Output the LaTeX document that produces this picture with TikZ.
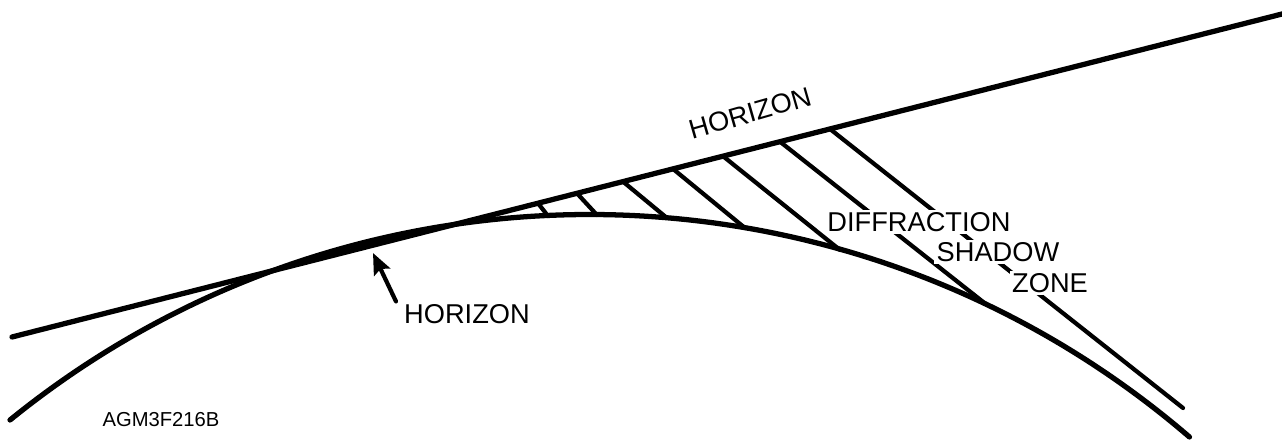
\documentclass[tikz,border=0pt]{standalone}
\usepackage{fontspec}
\setmainfont{Liberation Sans}
\usetikzlibrary{arrows.meta}
\tikzset{
  bigline/.style={line width=3pt, line cap=round},
  hatch/.style={line width=2.4pt, line cap=round},
  lbl/.style={fill=white, inner sep=1.5pt, font=\fontsize{15.5}{16}\selectfont},
}
\begin{document}
\begin{tikzpicture}[x=0.02cm, y=0.02cm]
  \useasboundingbox (0,0) rectangle (1282,440);
  % horizon line, tangent to the earth
  \coordinate (hl) at (12,103);
  \coordinate (hr) at (1282,426);
  \draw[bigline] (hl) -- (hr);
  % earth surface, centre (590,-695), r=920
  \draw[bigline] (10,20) arc[start angle=129.05, end angle=49.3, radius=920];

  % hatching between horizon and earth
  \foreach \xa/\xb/\yb in {538/548/224, 577/597/225, 623/667/222, 673/745/212, 723/840/190, 780/987/135}
    \draw[hatch] (\xa,{103+0.2543*(\xa-12)}) -- (\xb,\yb);
  \draw[hatch] (830,311) -- (1183,32);

  \node[lbl] (diffr) at (919,218) {DIFFRACTION};
  \node[lbl] (shadow) at (998,188) {SHADOW};
  \node[lbl] (zone) at (1050,157) {ZONE};

  \node[lbl, rotate=16] (hzup) at (750,327) {HORIZON};
  \node[lbl] (hzlow) at (467,126) {HORIZON};
  \coordinate (tangent) at (373,187);
  \draw[hatch, -{Stealth[length=12pt, width=10pt, inset=2pt]}] ([xshift=-3pt]hzlow.north west) -- (tangent);

  \node[font=\fontsize{11.5}{12}\selectfont] (figid) at (161,20) {AGM3F216B};
\end{tikzpicture}
\end{document}
